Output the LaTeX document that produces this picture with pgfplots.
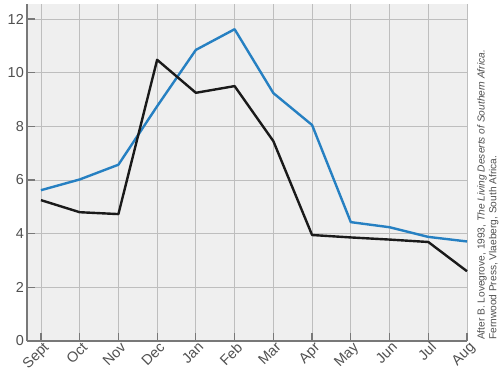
\documentclass[border=0pt]{standalone}
\usepackage{pgfplots}
\pgfplotsset{compat=1.18}
\usepackage{fontspec}
\setmainfont{Liberation Sans}
\definecolor{bgc}{RGB}{239,239,239}
\definecolor{gridc}{RGB}{190,190,190}
\definecolor{axc}{RGB}{120,120,120}
\definecolor{txtc}{RGB}{80,80,80}
\definecolor{blueline}{RGB}{38,128,194}
\definecolor{blackline}{RGB}{26,26,26}
\begin{document}
\begin{tikzpicture}
\useasboundingbox (-27bp,-38bp) rectangle (474bp,341bp);
\begin{axis}[
  anchor=south west, at={(0,0)},
  scale only axis,
  width=440bp, height=337bp,
  xmin=-0.36, xmax=11, ymin=0, ymax=12.56,
  axis background/.style={fill=bgc},
  axis x line*=bottom, axis y line*=left,
  axis line style={draw=axc, line width=1.6bp, -},
  xtick={0,...,11},
  xticklabels={Sept,Oct,Nov,Dec,Jan,Feb,Mar,Apr,May,Jun,Jul,Aug},
  ytick={0,2,...,12},
  grid=major,
  major grid style={draw=gridc, line width=0.8bp},
  tick align=inside,
  major tick length=8bp,
  tick style={draw=axc, line width=1.2bp},
  x tick label style={rotate=45, anchor=north east, font=\fontsize{14.5}{16}\selectfont, text=txtc, inner sep=1bp, xshift=2bp},
  y tick label style={font=\fontsize{14.5}{16}\selectfont, text=txtc, inner sep=1bp, xshift=-2bp},
  /pgf/number format/assume math mode=true,
  clip=false,
]
\addplot[blueline, line width=2.4bp, line join=round] coordinates {
(0,5.62) (1,6.02) (2,6.57) (3,8.75) (4,10.85) (5,11.62) (6,9.24) (7,8.05) (8,4.43) (9,4.24) (10,3.88) (11,3.71)
};
\addplot[blackline, line width=2.4bp, line join=round] coordinates {
(0,5.25) (1,4.80) (2,4.73) (3,10.48) (4,9.25) (5,9.50) (6,7.45) (7,3.95) (8,3.86) (9,3.78) (10,3.69) (11,2.60)
};
\node[rotate=90, anchor=north west, align=left, text=txtc, inner sep=0pt,
  font=\fontsize{10.2}{11.8}\selectfont] at (rel axis cs:1.0227,0.003)
  {After B. Lovegrove, 1993, \textit{The Living Deserts of Southern Africa.}\\Fernwood Press, Vlaeberg, South Africa.};
\end{axis}
\end{tikzpicture}
\end{document}
